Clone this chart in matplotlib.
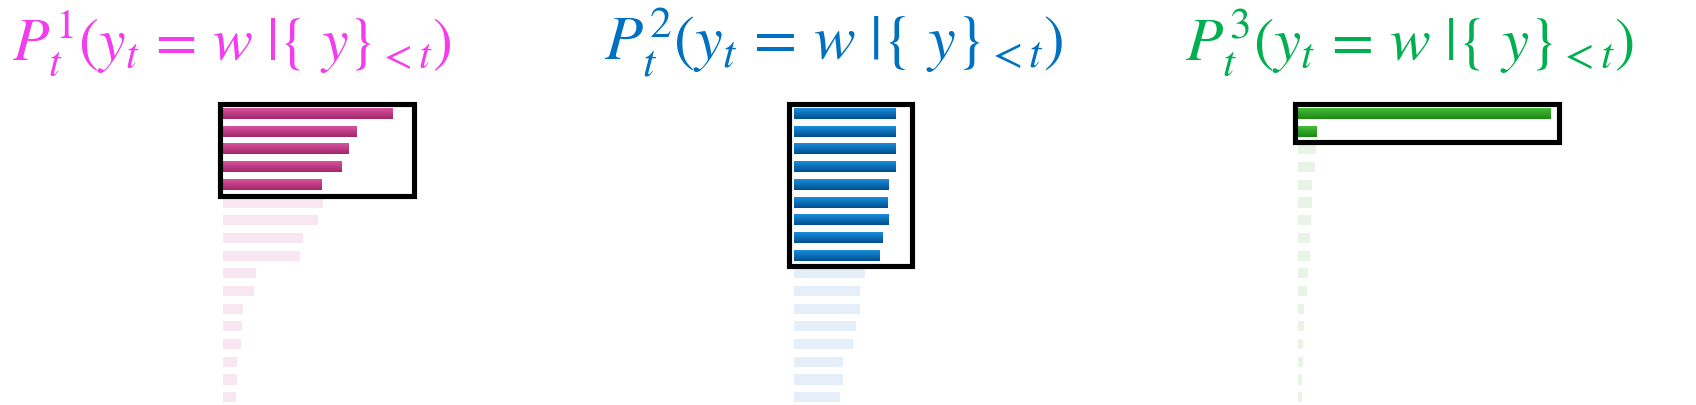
import matplotlib
matplotlib.use("Agg")
import matplotlib.pyplot as plt
import numpy as np
from matplotlib.colors import to_rgb
from matplotlib.patches import Rectangle

# bar lengths (same unit in all three panels), ranked
probs_1 = [170, 134, 126, 119, 99, 100, 95, 80, 77, 33, 31, 20, 19, 18, 14, 14, 13]
probs_2 = [102, 102, 102, 102, 95, 94, 95, 89, 86, 71, 66, 66, 62, 59, 49, 49, 46]
probs_3 = [253, 19, 18, 17, 14, 14, 13, 12, 12, 10, 9, 6, 6, 5, 5, 4, 4]
top_k = [5, 9, 2]
titles = [r"$P_t^1(y_t\,=\,w\ |\{\ y\}_{<t})$",
          r"$P_t^2(y_t\,=\,w\ |\{\ y\}_{<t})$",
          r"$P_t^3(y_t\,=\,w\ |\{\ y\}_{<t})$"]

title_colors = ["#F23CEE", "#0070C0", "#00B050"]
bar_top = ["#D8529E", "#1A8CDC", "#46BC3A"]
bar_bot = ["#A2286A", "#004F8E", "#1C8814"]
faded = ["#F8E6F0", "#E4EFF9", "#E8F4E6"]

W, H = 1696, 406
plt.rcParams["mathtext.fontset"] = "stix"
fig = plt.figure(figsize=(W / 100, H / 100), dpi=100)

bar_x0 = [223, 794, 1298]      # left end of bars, px
title_cx = [232, 834, 1410]
title_fs = [43, 45, 44]
pad_l = [3.5, 5.5, 3.5]
pad_r = [21, 16, 8]
row_h = 17.7
first_y = 115
ax_w = 380
ax_top, ax_bot = 95, 406


def gradient_img(c0, c1, n=32):
    a, b = np.array(to_rgb(c0)), np.array(to_rgb(c1))
    t = np.linspace(0, 1, n)[:, None]
    return (a + (b - a) * t)[:, None, :]


for k, probs in enumerate([probs_1, probs_2, probs_3]):
    ax = fig.add_axes([bar_x0[k] / W, (H - ax_bot) / H, ax_w / W, (ax_bot - ax_top) / H])
    ax.axis("off")
    hb = 0.57
    img = gradient_img(bar_top[k], bar_bot[k])
    for i, v in enumerate(probs):
        if i < top_k[k]:
            ax.imshow(img, extent=(0, v, i + hb / 2, i - hb / 2), origin="upper",
                      aspect="auto", interpolation="bilinear", zorder=2)
        else:
            ax.barh(i, v, height=hb, color=faded[k], zorder=1)
    # highlight box around top-k
    n = top_k[k]
    x0 = -pad_l[k]
    x1 = max(probs[:n]) + pad_r[k]
    y0 = -0.55
    y1 = n - 1 + hb / 2 + 0.32
    ax.add_patch(Rectangle((x0, y0), x1 - x0, y1 - y0, fill=False, edgecolor="black",
                           linewidth=3.7, clip_on=False, zorder=3))
    ax.set_xlim(0, ax_w)
    ax.set_ylim((ax_bot - first_y) / row_h, (ax_top - first_y) / row_h)

    fig.text(title_cx[k] / W, 1 - 60 / H, titles[k], color=title_colors[k],
             fontsize=title_fs[k], ha="center", va="baseline")

fig.savefig("out.png", dpi=100, facecolor="white")
